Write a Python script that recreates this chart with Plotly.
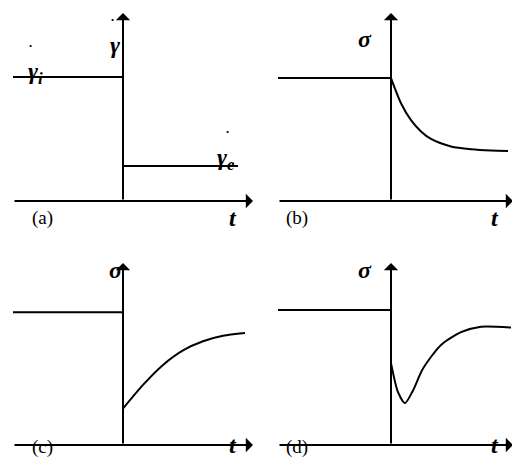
import plotly.graph_objects as go

# Panel data (t, response) in schematic units; vertical axis at t=0
# step parts (straight segments)
a_t = [-1.1, 0, 0, 1.15]
a_y = [0.66, 0.66, 0.186, 0.186]
b_step_t = [-1.13, 0]
b_step_y = [0.654, 0.654]
b_t = [0, 0.1, 0.2, 0.3, 0.4, 0.6, 0.8, 1.0, 1.17]
b_y = [0.654, 0.52, 0.43, 0.37, 0.33, 0.29, 0.275, 0.268, 0.266]
c_step_t = [-1.1, 0, 0]
c_step_y = [0.73, 0.73, 0.2]
c_t = [0, 0.2, 0.4, 0.6, 0.8, 1.0, 1.22]
c_y = [0.2, 0.33, 0.44, 0.52, 0.57, 0.6, 0.615]
d_step_t = [-1.13, 0, 0]
d_step_y = [0.742, 0.742, 0.45]
d_t = [0, 0.07, 0.14, 0.22, 0.32, 0.5, 0.7, 0.9, 1.2]
d_y = [0.45, 0.29, 0.23, 0.3, 0.42, 0.55, 0.62, 0.65, 0.645]

W, H = 520, 466
fig = go.Figure()
panels = [
    (5, 245, 5, 193, [-1.1, 1.3], [(a_t, a_y, "linear")]),
    (270, 505, 5, 193, [-1.13, 1.22], [(b_step_t, b_step_y, "linear"), (b_t, b_y, "spline")]),
    (5, 245, 255, 437, [-1.1, 1.3], [(c_step_t, c_step_y, "linear"), (c_t, c_y, "spline")]),
    (270, 505, 255, 437, [-1.13, 1.22], [(d_step_t, d_step_y, "linear"), (d_t, d_y, "spline")]),
]
for i, (x0, x1, yt, yb, xr, series) in enumerate(panels):
    n = "" if i == 0 else str(i + 1)
    for ts, ys, shp in series:
        line = dict(color="black", width=2, shape=shp)
        if shp == "spline":
            line["smoothing"] = 0.7
        fig.add_trace(go.Scatter(x=ts, y=ys, mode="lines", line=line,
                                 xaxis="x" + n, yaxis="y" + n, showlegend=False, hoverinfo="skip"))
    fig.update_layout(**{
        "xaxis" + n: dict(domain=[x0 / W, x1 / W], range=xr, visible=False, fixedrange=True),
        "yaxis" + n: dict(domain=[1 - yb / H, 1 - yt / H], range=[0, 1], visible=False, fixedrange=True),
    })
    ref, yref = "x" + n, "y" + n
    fig.add_annotation(x=xr[1], y=0, ax=xr[0], ay=0, xref=ref, yref=yref, axref=ref, ayref=yref,
                       showarrow=True, arrowhead=1, arrowsize=1.2, arrowwidth=2, arrowcolor="black", text="")
    fig.add_annotation(x=0, y=1, ax=0, ay=0, xref=ref, yref=yref, axref=ref, ayref=yref,
                       showarrow=True, arrowhead=1, arrowsize=1.2, arrowwidth=2, arrowcolor="black", text="")

def lab(px, py, text, size=22, bold=True, italic=True):
    t = text
    if bold:
        t = "<b>" + t + "</b>"
    if italic:
        t = "<i>" + t + "</i>"
    fig.add_annotation(x=px / W, y=1 - py / H, xref="paper", yref="paper", text=t, showarrow=False,
                       font=dict(family="Liberation Serif", size=size, color="black"))

for px, py, s in [(22, 210, "(a)"), (289, 210, "(b)"), (22, 452, "(c)"), (289, 452, "(d)")]:
    lab(px, py, s, size=19, bold=False, italic=False)
for px, py in [(225, 210), (493, 210), (225, 452), (493, 452)]:
    lab(px, py, "t", size=24)
# gamma-dot symbols: gamma with a dot above
for px, py, sub in [(100, 22, ""), (18, 48, "i"), (218, 134, "e")]:
    lab(px, py, "γ" + ("<sub>" + sub + "</sub>" if sub else ""), size=24)
    lab(px + 1, py - 17, "•", size=9, bold=False, italic=False)
lab(366, 16, "σ", size=24)
lab(99, 262, "σ", size=24)
lab(366, 262, "σ", size=24)

fig.update_layout(width=W, height=H, margin=dict(l=0, r=0, t=0, b=0),
                  plot_bgcolor="white", paper_bgcolor="white")
fig.write_html("out.html")
